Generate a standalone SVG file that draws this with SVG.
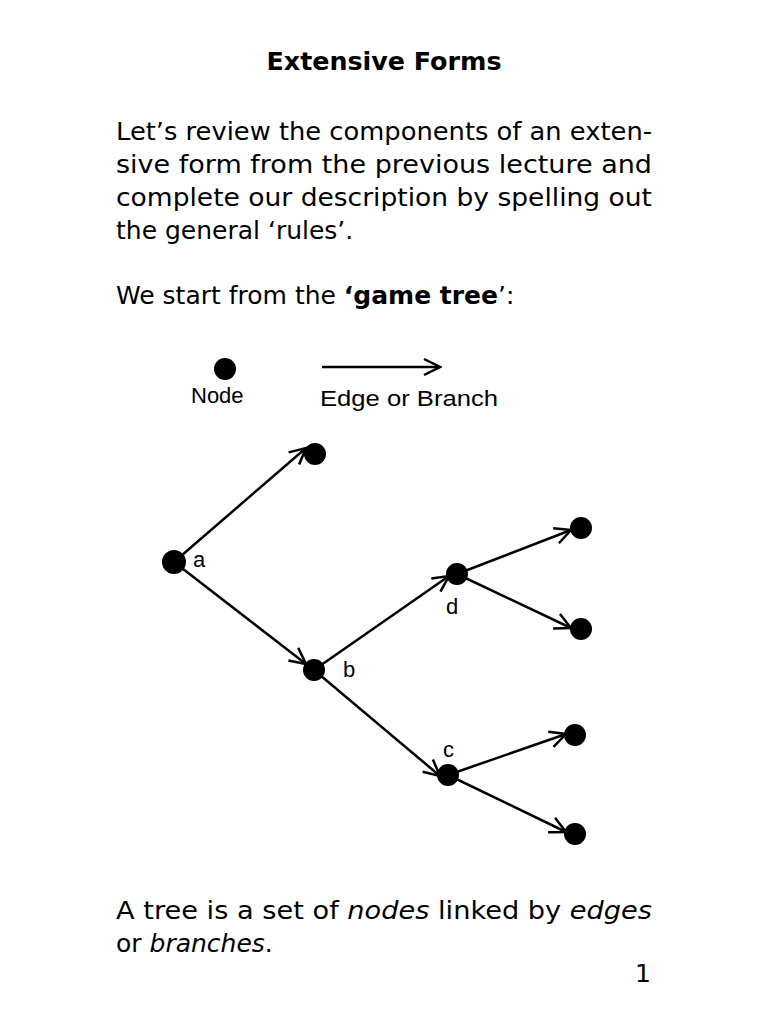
<svg xmlns="http://www.w3.org/2000/svg" width="768" height="1024" viewBox="0 0 768 1024">
<defs>
<marker id="ah" viewBox="0 0 20 20" refX="18" refY="10" markerWidth="20" markerHeight="20" markerUnits="userSpaceOnUse" orient="auto">
<path d="M2,2 L18,10 L2,18" fill="none" stroke="#000" stroke-width="2.5"/>
</marker>
<style>
.t{font-family:"DejaVu Sans",sans-serif;font-size:25px;fill:#000}
.l{font-family:"Liberation Sans",Arial,sans-serif;font-size:22px;fill:#000}
.e{stroke:#000;stroke-width:2.5;fill:none;marker-end:url(#ah)}
.n{fill:#000}
</style>
</defs>
<rect width="768" height="1024" fill="#fff"/>
<text class="t" x="384" y="70" text-anchor="middle" font-weight="bold" textLength="235" lengthAdjust="spacingAndGlyphs">Extensive Forms</text>
<text class="t" x="116" y="140" textLength="536" lengthAdjust="spacingAndGlyphs">Let’s review the components of an exten-</text>
<text class="t" x="116" y="173" textLength="536" lengthAdjust="spacingAndGlyphs">sive form from the previous lecture and</text>
<text class="t" x="116" y="206" textLength="536" lengthAdjust="spacingAndGlyphs">complete our description by spelling out</text>
<text class="t" x="116" y="239">the general ‘rules’.</text>
<text class="t" x="116" y="304">We start from the <tspan font-weight="bold">‘game tree</tspan>’:</text>
<g id="connectors">
<line class="e" x1="322" y1="367" x2="440" y2="367"/>
<line class="e" x1="174" y1="562" x2="306" y2="448"/>
<line class="e" x1="174" y1="562" x2="306" y2="664"/>
<line class="e" x1="314" y1="670" x2="449" y2="576"/>
<line class="e" x1="314" y1="670" x2="440" y2="776"/>
<line class="e" x1="457" y1="574" x2="571" y2="530"/>
<line class="e" x1="457" y1="574" x2="571" y2="628"/>
<line class="e" x1="448" y1="775" x2="566" y2="734"/>
<line class="e" x1="448" y1="775" x2="566" y2="832"/>
</g>
<g id="legend-node"><circle class="n" cx="225" cy="369" r="11"/><text class="l" x="191" y="403">Node</text></g>
<g id="legend-edge"><text class="l" x="320" y="406" textLength="178" lengthAdjust="spacingAndGlyphs">Edge or Branch</text></g>
<g id="n1"><circle class="n" cx="315" cy="454" r="11"/></g>
<g id="a"><circle class="n" cx="174" cy="562" r="12"/><text class="l" x="193" y="567">a</text></g>
<g id="b"><circle class="n" cx="314" cy="670" r="11"/><text class="l" x="343" y="677">b</text></g>
<g id="d"><circle class="n" cx="457" cy="574" r="11"/><text class="l" x="446" y="614">d</text></g>
<g id="n2"><circle class="n" cx="581" cy="528" r="11"/></g>
<g id="n3"><circle class="n" cx="581" cy="629" r="11"/></g>
<g id="c"><circle class="n" cx="448" cy="775" r="11"/><text class="l" x="443" y="757">c</text></g>
<g id="n4"><circle class="n" cx="575" cy="735" r="11"/></g>
<g id="n5"><circle class="n" cx="575" cy="834" r="11"/></g>
<text class="t" x="116" y="919" textLength="536" lengthAdjust="spacingAndGlyphs">A tree is a set of <tspan font-style="italic">nodes</tspan> linked by <tspan font-style="italic">edges</tspan></text>
<text class="t" x="116" y="952">or <tspan font-style="italic">branches</tspan>.</text>
<text class="t" x="651" y="982" text-anchor="end">1</text>
</svg>
